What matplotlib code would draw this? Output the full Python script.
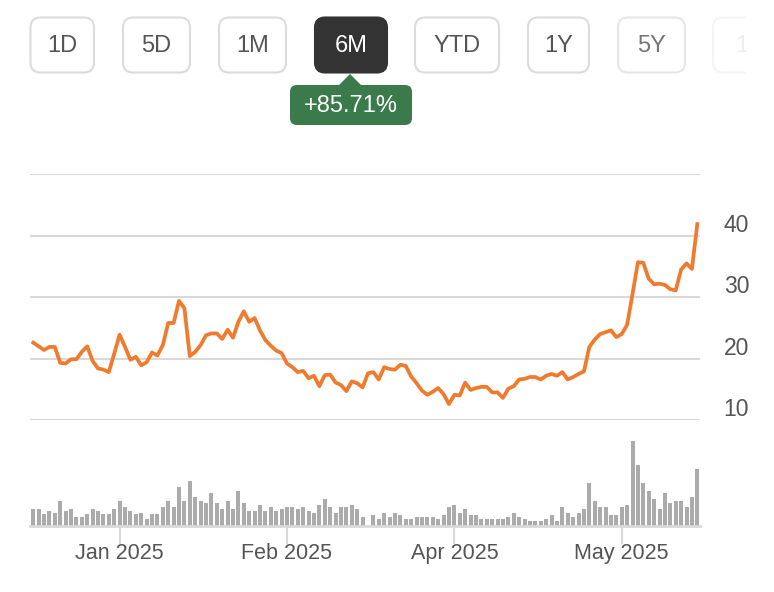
import numpy as np
from matplotlib import pyplot as plt
from matplotlib.patches import FancyBboxPatch, Polygon
from matplotlib.transforms import ScaledTranslation

plt.rcParams['font.family'] = ['Liberation Sans', 'DejaVu Sans']

# price per trading day
price = [22.6, 22.0, 21.4, 21.9, 21.9, 19.3, 19.2, 19.9, 19.9, 21.1, 22.0, 19.6, 18.4, 18.2, 17.8,
         20.8, 23.9, 21.9, 19.8, 20.3, 18.9, 19.4, 21.0, 20.5, 22.2, 25.8, 25.8, 29.4, 28.2, 20.4,
         21.1, 22.2, 23.8, 24.1, 24.1, 23.2, 24.7, 23.4, 26.0, 27.7, 26.0, 26.6,
         24.6, 23.0, 22.1, 21.3, 20.9, 19.2, 18.6, 17.8, 18.0, 16.8, 17.2, 15.5, 17.3, 17.4, 16.1,
         15.7, 14.7, 16.3, 16.0, 15.3, 17.6, 17.8, 16.6, 18.6, 18.3, 18.2, 19.0, 18.8, 17.1, 16.0,
         14.8, 14.1, 14.6, 15.2, 14.2, 12.6, 14.1, 14.0, 16.1, 14.9, 15.2, 15.4, 15.4,
         14.5, 14.5, 13.6, 15.1, 15.5, 16.6, 16.7, 17.0, 17.0, 16.6, 17.2, 17.5, 17.2, 17.8,
         16.6, 17.0, 17.5, 17.9, 21.9, 23.1, 24.0, 24.3, 24.6, 23.5, 24.0, 25.5, 30.5, 35.7, 35.6,
         33.0, 32.1, 32.2, 32.0, 31.3, 31.1, 34.5, 35.5, 34.6, 41.9]

# volume, no scale shown on the chart
volume = [17.3, 17.3, 11.7, 15.3, 13.3, 25.3, 15.3, 17.3, 9.3, 9.3, 11.7, 17.3, 15.3, 11.7, 11.7,
          17.3, 25.3, 19.3, 15.3, 11.7, 13.3, 7.3, 11.7, 11.7, 19.3, 25.3, 19.3, 39.3, 25.3, 45.3,
          29.3, 25.3, 23.3, 33.3, 23.3, 17.3, 25.3, 17.3, 35.3, 23.3, 15.3, 15.3, 21.3,
          15.3, 19.3, 15.3, 17.3, 19.3, 19.3, 17.3, 19.3, 15.3, 13.3, 21.3, 27.3, 19.3, 13.3, 19.3,
          19.3, 21.3, 17.3, 9.3, 0, 11.3, 7.3, 13.3, 9.3, 13.3, 11.3, 7.3, 7.3, 9.3, 9.3, 9.3, 9.3,
          7.3, 11.3, 19.3, 21.3, 13.3, 17.3, 11.3, 11.3, 7.3, 7.3,
          7.3, 7.3, 7.3, 9.3, 13.3, 9.3, 7.3, 5.3, 5.3, 5.3, 7.3, 11.3, 5.3, 19.3, 13.3, 9.3, 13.3,
          17.3, 43.3, 25.3, 19.3, 19.3, 11.3, 11.3, 19.3, 21.3, 85.3, 61.3, 43.3, 35.3, 27.3, 17.3,
          33.3, 23.3, 25.3, 25.3, 19.3, 29.3, 57.3]

price_ticks = [10, 20, 30, 40, 50]
price_labels = ['10', '20', '30', '40', '']
date_ticks = [16, 47, 78, 109]
date_labels = ['Jan 2025', 'Feb 2025', 'Apr 2025', 'May 2025']

ranges = ['1D', '5D', '1M', '6M', 'YTD', '1Y', '5Y', '10Y']
change_label = '+85.71%'

W, H = 774, 592
GRID = '#d9d9d9'
TEXT = '#555555'
days = np.arange(len(price))
x_limits = (-0.6, 123.5)


def px_box(x0, y0, x1, y1):
    # pixel box (from top left) to figure fractions
    return [x0 / W, 1 - y1 / H, (x1 - x0) / W, (y1 - y0) / H]


fig = plt.figure(figsize=(W / 100, H / 100), dpi=100, facecolor='white')

# price line
ax = fig.add_axes(px_box(30, 174.4, 700, 420))
ax.plot(days, price, color='#F07B2E', linewidth=2.7, solid_joinstyle='round', zorder=3)
ax.set_xlim(x_limits)
ax.set_ylim(10, 50)
ax.set_yticks(price_ticks)
ax.set_yticklabels(price_labels)
ax.yaxis.tick_right()
ax.set_xticks([])
ax.grid(axis='y', color=GRID, linewidth=1.5)
ax.set_axisbelow(True)
for s in ax.spines.values():
    s.set_visible(False)
ax.tick_params(axis='y', length=0, pad=17, labelsize=16.5, labelcolor=TEXT)
# labels sit just above their grid line
lift = ScaledTranslation(0, -0.8 / 72, fig.dpi_scale_trans)
for lab in ax.get_yticklabels():
    lab.set_va('bottom')
    lab.set_transform(lab.get_transform() + lift)

# volume bars
ax2 = fig.add_axes(px_box(30, 430, 700, 526))
ax2.bar(days, volume, width=0.74, color='#ababab')
ax2.set_xlim(x_limits)
ax2.set_ylim(0, 96)
ax2.set_yticks([])
ax2.set_xticks(date_ticks)
ax2.set_xticklabels(date_labels)
ax2.tick_params(axis='x', length=13, width=1.5, color=GRID, pad=-1, labelsize=15.5, labelcolor=TEXT)
for name, s in ax2.spines.items():
    s.set_visible(name == 'bottom')
ax2.spines['bottom'].set_color(GRID)
ax2.spines['bottom'].set_linewidth(2)

# range buttons and the change badge, in pixel coordinates
ui = fig.add_axes([0, 0, 1, 1], zorder=5)
ui.set_xlim(0, W)
ui.set_ylim(H, 0)
ui.axis('off')
ui.patch.set_alpha(0)

spans = [(30.5, 94), (123, 190), (219, 286), (315, 387), (415, 499), (528, 589), (618, 685), (713, 800)]
edges = ['#dcdcdc'] * 6 + ['#e6e6e6', '#f5f5f5']
colors = [TEXT] * 5 + [TEXT, '#757575', '#eeeeee']
clip = plt.Rectangle((0, 0), 746, H, transform=ui.transData)

for i, (label, (x0, x1)) in enumerate(zip(ranges, spans)):
    active = label == '6M'
    box = FancyBboxPatch((x0, 17.5), x1 - x0, 55, boxstyle='round,pad=0,rounding_size=10',
                         facecolor='#333333' if active else 'white',
                         edgecolor='#333333' if active else edges[i], linewidth=1.5)
    ui.add_patch(box)
    box.set_clip_path(clip)
    # the last button runs off the strip, as in the page
    t = ui.text((x0 + x1) / 2, 46, label, ha='center', va='center', fontsize=17,
                color='white' if active else colors[i], clip_on=True)
    t.set_clip_path(clip)

ui.add_patch(Polygon([(338, 86), (350, 74), (362, 86)], facecolor='#3A7A4B', edgecolor='none'))
ui.add_patch(FancyBboxPatch((290, 85), 122, 40, boxstyle='round,pad=0,rounding_size=7',
                            facecolor='#3A7A4B', edgecolor='none'))
ui.text(351, 106, change_label, ha='center', va='center', fontsize=17, color='white')

plt.savefig('out.png', dpi=100)
